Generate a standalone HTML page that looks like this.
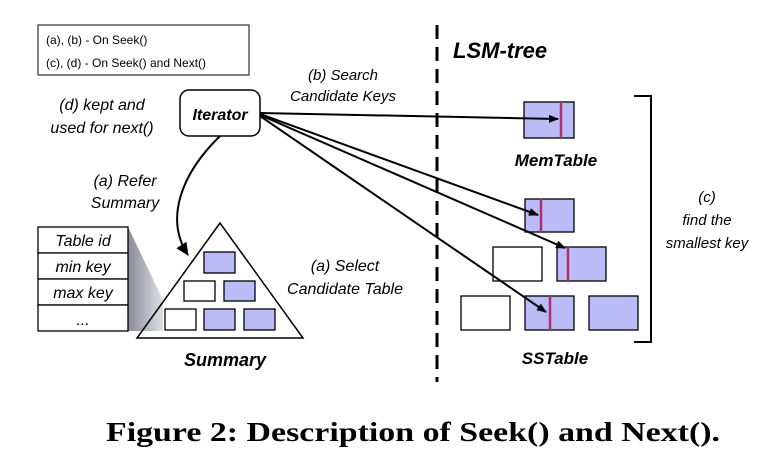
<!DOCTYPE html>
<html><head><meta charset="utf-8"><style>html,body{margin:0;padding:0;background:#fff}svg{display:block}</style></head>
<body>
<svg width="774" height="466" viewBox="0 0 774 466" xmlns="http://www.w3.org/2000/svg" font-family="Liberation Sans, sans-serif">
<defs>
<marker id="ah" markerWidth="10" markerHeight="8" refX="9" refY="4" orient="auto" markerUnits="userSpaceOnUse"><path d="M0,0 L10,4 L0,8 z" fill="#000"/></marker>
<marker id="ah2" markerWidth="14" markerHeight="12" refX="12" refY="6" orient="auto" markerUnits="userSpaceOnUse"><path d="M0,0 L13,6 L0,12 z" fill="#000"/></marker>
<linearGradient id="g" x1="0" x2="1" y1="0" y2="0"><stop offset="0" stop-color="#8a8a98"/><stop offset="1" stop-color="#e0e0e6"/></linearGradient>
</defs>
<!-- legend -->
<rect x="38" y="25" width="211" height="50" fill="#fff" stroke="#333" stroke-width="1.2"/>
<text x="46" y="44" font-size="12">(a), (b) - On Seek()</text>
<text x="46" y="67" font-size="12">(c), (d) - On Seek() and Next()</text>
<!-- d text -->
<g font-style="italic" font-size="16" text-anchor="middle">
<text x="102" y="110">(d) kept and</text>
<text x="102" y="133">used for next()</text>
<text x="125" y="186">(a) Refer</text>
<text x="125" y="208">Summary</text>
<text x="345" y="271">(a) Select</text>
<text x="345" y="294">Candidate Table</text>
</g>
<g font-style="italic" font-size="15" text-anchor="middle">
<text x="343" y="80">(b) Search</text>
<text x="343" y="101">Candidate Keys</text>
<text x="707" y="202">(c)</text>
<text x="707" y="225">find the</text>
<text x="707" y="248">smallest key</text>
</g>
<!-- iterator -->
<rect x="180" y="90" width="80" height="46" rx="9" fill="#fff" stroke="#000" stroke-width="1.5"/>
<text x="220" y="120" font-size="16" font-weight="bold" font-style="italic" text-anchor="middle">Iterator</text>
<!-- table -->
<polygon points="128,227 163,300 163,331 128,331" fill="url(#g)"/>
<g fill="#fff" stroke="#000" stroke-width="1.3">
<rect x="38" y="227" width="90" height="26"/><rect x="38" y="253" width="90" height="26"/>
<rect x="38" y="279" width="90" height="26"/><rect x="38" y="305" width="90" height="26"/>
</g>
<g font-style="italic" font-size="16" text-anchor="middle">
<text x="83" y="246">Table id</text><text x="83" y="272">min key</text><text x="83" y="298">max key</text><text x="83" y="325">...</text>
</g>
<!-- triangle -->
<polygon points="220,223 137,338 303,338" fill="none" stroke="#000" stroke-width="1.5"/>
<g stroke="#000" stroke-width="1.3">
<rect x="204" y="252" width="31" height="21" fill="#bbbbf8"/>
<rect x="184" y="281" width="31" height="20" fill="#fff"/>
<rect x="224" y="281" width="31" height="20" fill="#bbbbf8"/>
<rect x="165" y="309" width="31" height="21" fill="#fff"/>
<rect x="204" y="309" width="31" height="21" fill="#bbbbf8"/>
<rect x="244" y="309" width="31" height="21" fill="#bbbbf8"/>
</g>
<text x="225" y="366" font-size="18" font-weight="bold" font-style="italic" text-anchor="middle">Summary</text>
<!-- curved arrow -->
<path d="M220,136 C180,175 165,220 188,255" fill="none" stroke="#000" stroke-width="2" marker-end="url(#ah2)"/>
<!-- dashed line -->
<line x1="437" y1="25" x2="437" y2="382" stroke="#000" stroke-width="3" stroke-dasharray="14,8"/>
<text x="453" y="58" font-size="22" font-weight="bold" font-style="italic">LSM-tree</text>
<!-- LSM boxes -->
<g stroke="#000" stroke-width="1.3">
<rect x="524" y="102" width="50" height="36" fill="#bbbbf8"/>
<rect x="525" y="199" width="49" height="33" fill="#bbbbf8"/>
<rect x="493" y="247" width="49" height="34" fill="#fff"/>
<rect x="557" y="247" width="49" height="34" fill="#bbbbf8"/>
<rect x="461" y="296" width="49" height="34" fill="#fff"/>
<rect x="525" y="296" width="49" height="34" fill="#bbbbf8"/>
<rect x="589" y="296" width="49" height="34" fill="#bbbbf8"/>
</g>
<g stroke="#b0306a" stroke-width="2.5">
<line x1="561" y1="102" x2="561" y2="138"/>
<line x1="541" y1="199" x2="541" y2="232"/>
<line x1="568" y1="247" x2="568" y2="281"/>
<line x1="550" y1="296" x2="550" y2="330"/>
</g>
<text x="556" y="166" font-size="17" font-weight="bold" font-style="italic" text-anchor="middle">MemTable</text>
<text x="555" y="364" font-size="17" font-weight="bold" font-style="italic" text-anchor="middle">SSTable</text>
<!-- bracket -->
<polyline points="634,96 651,96 651,342 634,342" fill="none" stroke="#000" stroke-width="2"/>
<!-- arrows -->
<g stroke="#000" stroke-width="2" fill="none" marker-end="url(#ah)">
<line x1="260" y1="113" x2="558" y2="119"/>
<line x1="260" y1="114" x2="538" y2="215"/>
<line x1="260" y1="115" x2="565" y2="248"/>
<line x1="260" y1="116" x2="546" y2="312"/>
</g>
<text x="413" y="441" font-family="Liberation Serif, serif" font-size="27" font-weight="bold" text-anchor="middle" textLength="614" lengthAdjust="spacingAndGlyphs">Figure 2: Description of Seek() and Next().</text>
</svg>
</body></html>
